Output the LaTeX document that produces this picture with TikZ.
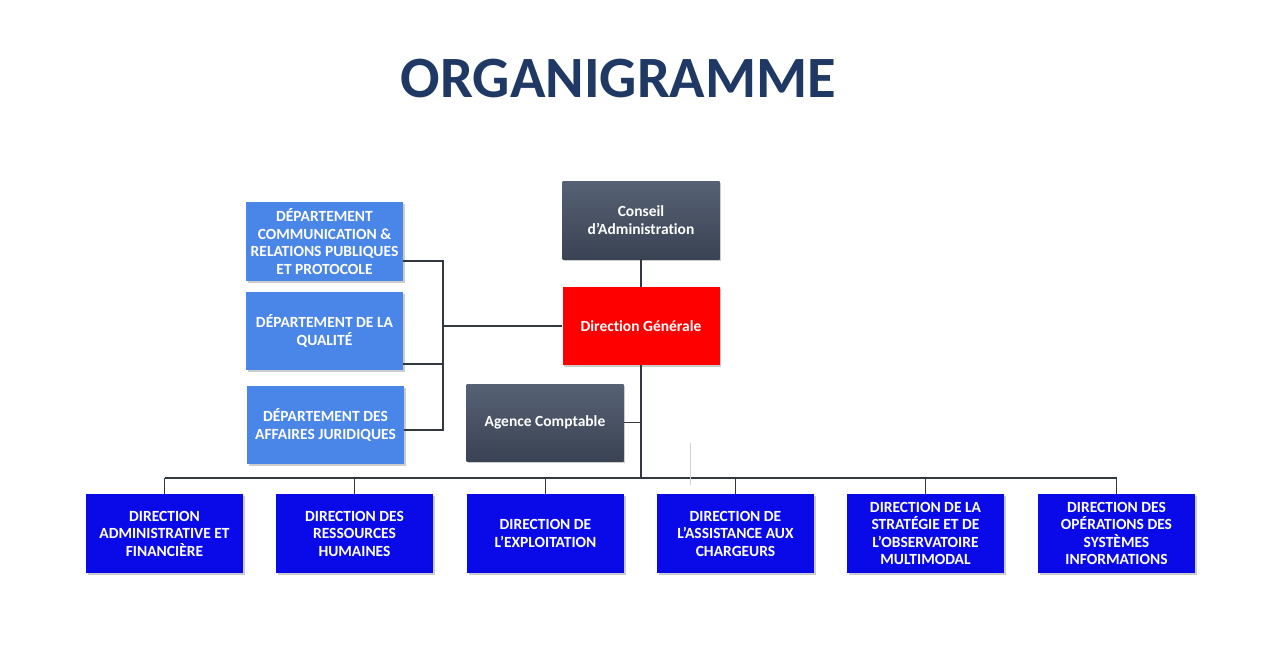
\documentclass[tikz,border=0pt]{standalone}
\usepackage{fontspec}
\setmainfont{Carlito}[Ligatures=NoCommon]
\usetikzlibrary{shadows,calc}
\definecolor{titlecol}{HTML}{1F3864}
\definecolor{deptblue}{HTML}{4A86E8}
\definecolor{dirblue}{HTML}{0A0AE8}
\definecolor{slatetop}{HTML}{566173}
\definecolor{slatebot}{HTML}{3A4354}
\definecolor{linecol}{HTML}{333840}
\begin{document}
\begin{tikzpicture}[x=1pt,y=-1pt,
  box/.style={minimum width=157pt,minimum height=78pt,inner sep=1pt,align=center,
    text=white,font=\bfseries\fontsize{15.5}{17.5}\selectfont,
    drop shadow={opacity=0.4,shadow xshift=1.5pt,shadow yshift=-2pt}},
  dept/.style={box,fill=deptblue},
  dir/.style={box,fill=dirblue},
  slate/.style={box,top color=slatetop,bottom color=slatebot},
  red/.style={box,fill=red},
  conn/.style={draw=linecol,line width=1.4pt}
]
\useasboundingbox[fill=white] (0,0) rectangle (1280,649);
\node[text=titlecol,font=\bfseries\fontsize{58.5}{64}\selectfont] (title) at (618.5,79) {ORGANIGRAMME};

\node[slate] (conseil) at (641,220) {Conseil\\d’Administration};
\node[red] (dg) at (641,326) {Direction Générale};
\node[slate,minimum height=77pt] (agence) at (545,422.5) {Agence Comptable};

\node[dept,minimum height=79pt] (d1) at (324.5,241.5) {DÉPARTEMENT\\COMMUNICATION \&\\RELATIONS PUBLIQUES\\ET PROTOCOLE};
\node[dept] (d2) at (324.5,331) {DÉPARTEMENT DE LA\\QUALITÉ};
\node[dept] (d3) at (325.5,425) {DÉPARTEMENT DES\\AFFAIRES JURIDIQUES};

\node[dir,minimum height=79pt] (b1) at (164.5,533.5) {DIRECTION\\ADMINISTRATIVE ET\\FINANCIÈRE};
\node[dir,minimum height=79pt] (b2) at (354.5,533.5) {DIRECTION DES\\RESSOURCES\\HUMAINES};
\node[dir,minimum height=79pt] (b3) at (545.5,533.5) {DIRECTION DE\\L’EXPLOITATION};
\node[dir,minimum height=79pt] (b4) at (735.5,533.5) {DIRECTION DE\\L’ASSISTANCE AUX\\CHARGEURS};
\node[dir,minimum height=79pt] (b5) at (925.5,533.5) {DIRECTION DE LA\\STRATÉGIE ET DE\\L’OBSERVATOIRE\\MULTIMODAL};
\node[dir,minimum height=79pt] (b6) at (1116.5,533.5) {DIRECTION DES\\OPÉRATIONS DES\\SYSTÈMES\\INFORMATIONS};

\coordinate (bus) at (641,478);
\coordinate (lv) at (443,326);

% connectors
\draw[conn] (conseil.south) -- (dg.north);
\draw[conn] (dg.south) -- (bus);
\draw[conn] (agence.east) -- (agence.east -| dg.south);
\draw[conn] (dg.west) -- (lv);
\draw[conn] ([yshift=-19.5pt]d1.east) -| (lv);
\draw[conn] ([yshift=-5pt]d3.east) -| (lv);
\draw[conn] ([yshift=-33pt]d2.east) -- ([yshift=-33pt]d2.east -| lv);
\draw[conn] (b1.north |- bus) -- (b6.north |- bus);
\foreach \b in {b1,b2,b3,b4,b5,b6}{
  \draw[conn] (\b.north |- bus) -- (\b.north);
}
\coordinate (s1) at (690,443);
\coordinate (s2) at (690,485);
\draw[gray!35,line width=0.8pt] (s1) -- (s2);
\end{tikzpicture}
\end{document}
